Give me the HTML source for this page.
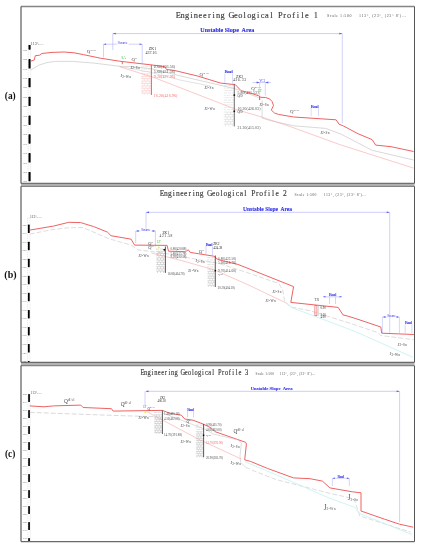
<!DOCTYPE html><html><head><meta charset="utf-8"><title>Engineering Geological Profiles</title><style>html,body{margin:0;padding:0;background:#fff;overflow:hidden}svg{display:block}text{font-family:"Liberation Serif",serif}.m{font-family:"Liberation Mono",monospace}.b{font-weight:bold}</style></head><body>
<svg width="422" height="550" viewBox="0 0 422 550">
<rect width="422" height="550" fill="#fff"/>
<line x1="21" y1="6.5" x2="414.5" y2="6.5" stroke="#858585" stroke-width="1.3"/>
<line x1="21" y1="183.4" x2="414.5" y2="183.4" stroke="#6a6a6a" stroke-width="1.2"/>
<line x1="21" y1="6.5" x2="21" y2="183.4" stroke="#5a5a5a" stroke-width="1.2"/>
<line x1="414.5" y1="6.5" x2="414.5" y2="183.4" stroke="#555" stroke-width="1.0"/>
<rect x="21" y="183.9" width="393.5" height="2.0" fill="#b2b2b2"/>
<rect x="21" y="362.7" width="393.5" height="2.4" fill="#b2b2b2"/>
<text x="4.8" y="98.9" font-size="9.4" fill="#111" class="b" >(a)</text>
<rect x="28.2" y="44.9" width="2.4" height="136.6" fill="none" stroke="#bbb" stroke-width="0.4" stroke-dasharray="1,1"/>
<rect x="28.5" y="44.9" width="2.1" height="4.8" fill="#000" rx="0.6"/>
<rect x="28.5" y="59.1" width="2.1" height="9.4" fill="#000" rx="0.6"/>
<rect x="28.5" y="77.9" width="2.1" height="9.4" fill="#000" rx="0.6"/>
<rect x="28.5" y="96.7" width="2.1" height="9.4" fill="#000" rx="0.6"/>
<rect x="28.5" y="115.5" width="2.1" height="9.4" fill="#000" rx="0.6"/>
<rect x="28.5" y="134.3" width="2.1" height="9.4" fill="#000" rx="0.6"/>
<rect x="28.5" y="153.1" width="2.1" height="9.4" fill="#000" rx="0.6"/>
<rect x="28.5" y="171.9" width="2.1" height="9.4" fill="#000" rx="0.6"/>
<text x="23.2" y="50.7" font-size="2.6" fill="#777">925</text>
<text x="23.2" y="60.1" font-size="2.6" fill="#777">920</text>
<text x="23.2" y="69.5" font-size="2.6" fill="#777">915</text>
<text x="23.2" y="78.9" font-size="2.6" fill="#777">910</text>
<text x="23.2" y="88.3" font-size="2.6" fill="#777">905</text>
<text x="23.2" y="97.7" font-size="2.6" fill="#777">900</text>
<text x="23.2" y="107.1" font-size="2.6" fill="#777">895</text>
<text x="23.2" y="116.5" font-size="2.6" fill="#777">890</text>
<text x="23.2" y="125.9" font-size="2.6" fill="#777">885</text>
<text x="23.2" y="135.3" font-size="2.6" fill="#777">880</text>
<text x="23.2" y="144.7" font-size="2.6" fill="#777">875</text>
<text x="23.2" y="154.1" font-size="2.6" fill="#777">870</text>
<text x="23.2" y="163.5" font-size="2.6" fill="#777">865</text>
<text x="23.2" y="172.9" font-size="2.6" fill="#777">860</text>
<text x="23.2" y="182.3" font-size="2.6" fill="#777">855</text>
<text x="30.8" y="44.5" font-size="4.0" fill="#444" >113°</text>
<text x="38" y="44.5" font-size="2.2" fill="#999" >m.a.s.l</text>
<text transform="scale(0.95,1)" x="184.91 190.07 194.74 200.39 204.08 209.00 213.67 218.83 223.74 227.44 232.11 237.88 240.47 246.37 250.79 256.44 260.14 264.81 270.46 274.40 279.07 284.47 289.26 292.59 298.24 302.18 307.58 312.49 317.17 321.11 326.63 330.20" y="17.6" font-size="8.8" fill="#3a3a3a" stroke="#3a3a3a" stroke-width="0.14">Engineering Geological Profile 1</text>
<text x="327" y="17" font-size="4.0" fill="#555" textLength="24.5">Scale 1:500</text>
<text x="359" y="17.2" font-size="4.0" fill="#555" textLength="47">113°, (23°, (23° 8′)...</text>
<text x="200.3" y="31.7" font-size="6.4" fill="#3030e6" class="b" stroke="#3030e6" stroke-width="0.12" textLength="54" lengthAdjust="spacingAndGlyphs">Unstable Slope&#160; Area</text>
<line x1="112.8" y1="33.6" x2="342.3" y2="33.6" stroke="#a4a4f7" stroke-width="0.55" />
<line x1="112.8" y1="33.6" x2="112.8" y2="50" stroke="#a4a4f7" stroke-width="0.5" />
<line x1="342.3" y1="33.6" x2="342.3" y2="123.4" stroke="#a4a4f7" stroke-width="0.5" />
<path d="M112.8,33.6 l3,-0.9 v1.8z" fill="#5a5af2"/>
<path d="M342.3,33.6 l-3,-0.9 v1.8z" fill="#5a5af2"/>
<line x1="103.5" y1="44.2" x2="116.8" y2="44.2" stroke="#a4a4f7" stroke-width="0.5" />
<line x1="128.7" y1="44.2" x2="142.2" y2="44.2" stroke="#a4a4f7" stroke-width="0.5" />
<line x1="103.5" y1="44.2" x2="103.5" y2="57.5" stroke="#a4a4f7" stroke-width="0.5" />
<line x1="142.2" y1="44.2" x2="142.2" y2="63" stroke="#a4a4f7" stroke-width="0.5" />
<path d="M103.5,44.2 l2.6,-0.8 v1.6z M142.2,44.2 l-2.6,-0.8 v1.6z" fill="#5a5af2"/>
<text x="117.6" y="44.1" font-size="4.6" fill="#5a5af2" textLength="10.3">Source</text>
<polyline points="30.7,61.2 34.3,59.9 35.3,55.7 39.6,55.2 41.7,53.5 52.0,52.4 64.1,52.0 74.0,52.8 83.3,54.6 100.4,58.2 119.6,61.2 151.3,64.9 164.7,66.6 166.6,69.5 174.2,70.4 197.9,76.1 210.2,79.9 220.7,83.1 232.0,84.3 235.0,84.4 241.0,90.6 245.0,91.7 252.1,93.6 258.9,95.9 260.7,97.3 265.7,97.5 269.9,99.1 272.1,101.6 273.5,105.5 271.3,110.1 274.5,113.0 278.5,114.4 285.0,115.5 293.7,117.0 336.1,119.8 339.0,124.2 343.7,126.1 357.9,133.7 372.1,139.6 375.7,145.1 391.1,146.7 413.6,151.5" fill="none" stroke="#f06262" stroke-width="1.0" stroke-linejoin="round" />
<polyline points="30.5,70.2 38.5,65.3 47.0,62.5 55.6,61.4 72.6,61.4 94.0,63.1 119.6,66.3 131.1,66.5 151.5,68.8 190.0,78.2 235.0,88.7 258.5,97.5" fill="none" stroke="#cfcfcf" stroke-width="0.8" stroke-linejoin="round" />
<polyline points="119.6,66.3 151.5,72.5 180.0,80.0 210.0,86.0" fill="none" stroke="#cfcfcf" stroke-width="0.6" stroke-linejoin="round" />
<polyline points="262.1,118.0 270.0,120.5 293.7,125.8 325.7,128.4 341.0,134.1 372.1,150.3 413.6,160.0" fill="none" stroke="#cfcfcf" stroke-width="0.8" stroke-linejoin="round" />
<polyline points="119.6,66.8 152.0,76.8 190.0,91.5 237.0,109.8 261.0,116.8 290.0,126.5 341.0,145.0 413.6,168.1" fill="none" stroke="#f6a6a6" stroke-width="0.6" stroke-linejoin="round" />
<line x1="262.1" y1="100" x2="262.1" y2="118" stroke="#bbb" stroke-width="0.5" />
<line x1="259.6" y1="96.3" x2="259.6" y2="100" stroke="#f06262" stroke-width="1.2" />
<text x="121.2" y="58.8" font-size="3.6" fill="#4c4" >SA</text>
<path d="M122.3,61.6 v2.6" stroke="#f06262" stroke-width="1"/>
<text x="86.8" y="53.2" font-size="4.8" fill="#444">Q<tspan font-size="2.88" dy="-1.92">dl+el</tspan></text>
<text x="131.5" y="60.5" font-size="4.8" fill="#444">Q<tspan font-size="2.88" dy="-1.92">el</tspan></text>
<text x="199.5" y="75.6" font-size="4.8" fill="#444">Q<tspan font-size="2.88" dy="-1.92">dl+el</tspan></text>
<text x="251.2" y="89.6" font-size="4.8" fill="#444">Q<tspan font-size="2.88" dy="-1.92">dl+el</tspan></text>
<text x="290" y="112.5" font-size="4.8" fill="#444">Q<tspan font-size="2.88" dy="-1.92">dl+el</tspan></text>
<text x="257.8" y="91.7" font-size="3.6" fill="#5c5" >LT</text>
<line x1="252.5" y1="82.5" x2="271" y2="82.5" stroke="#a4a4f7" stroke-width="0.5" />
<path d="M259.6,82.5 l-3,-0.9 v1.8z M265.3,82.5 l3,-0.9 v1.8z" fill="#5a5af2"/>
<text x="259.2" y="82.3" font-size="3.6" fill="#5a5af2" textLength="6">YC1</text>
<line x1="259.6" y1="82.5" x2="259.6" y2="95.6" stroke="#a4a4f7" stroke-width="0.45" />
<line x1="265.3" y1="82.5" x2="265.3" y2="95.6" stroke="#a4a4f7" stroke-width="0.45" />
<text x="224.4" y="73.4" font-size="4.6" fill="#3535e8" class="b" textLength="8.4">Road</text>
<line x1="224.8" y1="73.6" x2="224.8" y2="83.5" stroke="#a4a4f7" stroke-width="0.4" />
<line x1="232.5" y1="73.6" x2="232.5" y2="83.5" stroke="#a4a4f7" stroke-width="0.4" />
<text x="310.8" y="107.5" font-size="4.3" fill="#3535e8" class="b" textLength="7.8">Road</text>
<line x1="311.2" y1="107.8" x2="311.2" y2="116.3" stroke="#a4a4f7" stroke-width="0.4" />
<line x1="318.5" y1="107.8" x2="318.5" y2="116.3" stroke="#a4a4f7" stroke-width="0.4" />
<text x="130.5" y="68.89999999999999" font-size="4.4" fill="#444">J<tspan font-size="3.43" dy="0.26" letter-spacing="0.40">2-Sn</tspan></text>
<text x="120.5" y="77.3" font-size="4.4" fill="#444">J<tspan font-size="3.43" dy="0.26" letter-spacing="0.40">2-Wn</tspan></text>
<text x="204.2" y="88.8" font-size="4.4" fill="#444">J<tspan font-size="3.43" dy="0.26" letter-spacing="0.40">2-Sn</tspan></text>
<text x="204.2" y="109.6" font-size="4.4" fill="#444">J<tspan font-size="3.43" dy="0.26" letter-spacing="0.40">2-Wn</tspan></text>
<text x="259.3" y="105.7" font-size="4.4" fill="#444">J<tspan font-size="3.43" dy="0.26" letter-spacing="0.40">2-Sn</tspan></text>
<text x="320.2" y="133.70000000000002" font-size="4.4" fill="#444">J<tspan font-size="3.43" dy="0.26" letter-spacing="0.40">2-Sn</tspan></text>
<g stroke-width="0.4"><line x1="141.0" y1="66.7" x2="151.0" y2="66.7" stroke="#cfcfcf" stroke-dasharray="3.2,0.8" stroke-dashoffset="0.0"/><line x1="141.0" y1="69.1" x2="151.0" y2="69.1" stroke="#cfcfcf" stroke-dasharray="3.2,0.8" stroke-dashoffset="1.3"/><line x1="141.0" y1="71.5" x2="151.0" y2="71.5" stroke="#cfcfcf" stroke-dasharray="3.2,0.8" stroke-dashoffset="2.6"/><line x1="141.0" y1="73.9" x2="151.0" y2="73.9" stroke="#f7b4b4"/><line x1="144.3" y1="73.9" x2="144.3" y2="76.3" stroke="#f7b4b4"/><line x1="147.7" y1="73.9" x2="147.7" y2="76.3" stroke="#f7b4b4"/><line x1="141.0" y1="76.3" x2="151.0" y2="76.3" stroke="#f7b4b4"/><line x1="142.7" y1="76.3" x2="142.7" y2="78.7" stroke="#f7b4b4"/><line x1="146.0" y1="76.3" x2="146.0" y2="78.7" stroke="#f7b4b4"/><line x1="149.3" y1="76.3" x2="149.3" y2="78.7" stroke="#f7b4b4"/><line x1="141.0" y1="78.7" x2="151.0" y2="78.7" stroke="#f7b4b4"/><line x1="144.3" y1="78.7" x2="144.3" y2="81.1" stroke="#f7b4b4"/><line x1="147.7" y1="78.7" x2="147.7" y2="81.1" stroke="#f7b4b4"/><line x1="141.0" y1="81.1" x2="151.0" y2="81.1" stroke="#f7b4b4"/><line x1="142.7" y1="81.1" x2="142.7" y2="83.5" stroke="#f7b4b4"/><line x1="146.0" y1="81.1" x2="146.0" y2="83.5" stroke="#f7b4b4"/><line x1="149.3" y1="81.1" x2="149.3" y2="83.5" stroke="#f7b4b4"/><line x1="141.0" y1="83.5" x2="151.0" y2="83.5" stroke="#f7b4b4"/><line x1="144.3" y1="83.5" x2="144.3" y2="85.9" stroke="#f7b4b4"/><line x1="147.7" y1="83.5" x2="147.7" y2="85.9" stroke="#f7b4b4"/><line x1="141.0" y1="85.9" x2="151.0" y2="85.9" stroke="#f7b4b4"/><line x1="142.7" y1="85.9" x2="142.7" y2="88.3" stroke="#f7b4b4"/><line x1="146.0" y1="85.9" x2="146.0" y2="88.3" stroke="#f7b4b4"/><line x1="149.3" y1="85.9" x2="149.3" y2="88.3" stroke="#f7b4b4"/><line x1="141.0" y1="88.3" x2="151.0" y2="88.3" stroke="#f7b4b4"/><line x1="144.3" y1="88.3" x2="144.3" y2="90.7" stroke="#f7b4b4"/><line x1="147.7" y1="88.3" x2="147.7" y2="90.7" stroke="#f7b4b4"/><line x1="141.0" y1="90.7" x2="151.0" y2="90.7" stroke="#f7b4b4"/><line x1="142.7" y1="90.7" x2="142.7" y2="93.1" stroke="#f7b4b4"/><line x1="146.0" y1="90.7" x2="146.0" y2="93.1" stroke="#f7b4b4"/><line x1="149.3" y1="90.7" x2="149.3" y2="93.1" stroke="#f7b4b4"/><line x1="141.0" y1="93.1" x2="151.0" y2="93.1" stroke="#f7b4b4"/><line x1="144.3" y1="93.1" x2="144.3" y2="94.5" stroke="#f7b4b4"/><line x1="147.7" y1="93.1" x2="147.7" y2="94.5" stroke="#f7b4b4"/></g>
<line x1="151.4" y1="64.8" x2="151.4" y2="95" stroke="#ee4a4a" stroke-width="0.9" />
<text x="148.8" y="50.4" font-size="4.0" fill="#333" >ZK1</text>
<text x="145.4" y="54.3" font-size="4.0" fill="#333" >437.16</text>
<text x="153.8" y="68" font-size="4.0" fill="#505050" textLength="21.4">0.60(436.56)</text>
<text x="153.8" y="72.6" font-size="4.0" fill="#505050" textLength="21.4">5.60(431.56)</text>
<text x="153.8" y="77.8" font-size="4.0" fill="#f06a6a" textLength="21.4">9.20(427.96)</text>
<text x="153.8" y="97.2" font-size="4.0" fill="#f06a6a" textLength="23.5">16.20(416.96)</text>
<g stroke-width="0.4"><line x1="223.8" y1="85.7" x2="234.0" y2="85.7" stroke="#c8c8c8" stroke-dasharray="3.2,0.8" stroke-dashoffset="0.0"/><line x1="223.8" y1="88.1" x2="234.0" y2="88.1" stroke="#c8c8c8" stroke-dasharray="3.2,0.8" stroke-dashoffset="1.3"/><line x1="223.8" y1="90.5" x2="234.0" y2="90.5" stroke="#c8c8c8" stroke-dasharray="3.2,0.8" stroke-dashoffset="2.6"/><line x1="223.8" y1="92.9" x2="234.0" y2="92.9" stroke="#c8c8c8" stroke-dasharray="3.2,0.8" stroke-dashoffset="3.9"/><line x1="223.8" y1="95.3" x2="234.0" y2="95.3" stroke="#c8c8c8" stroke-dasharray="3.2,0.8" stroke-dashoffset="1.2"/><line x1="223.8" y1="97.7" x2="234.0" y2="97.7" stroke="#c8c8c8" stroke-dasharray="3.2,0.8" stroke-dashoffset="2.5"/><line x1="223.8" y1="100.1" x2="234.0" y2="100.1" stroke="#c8c8c8" stroke-dasharray="3.2,0.8" stroke-dashoffset="3.8"/><line x1="223.8" y1="102.5" x2="234.0" y2="102.5" stroke="#c8c8c8" stroke-dasharray="3.2,0.8" stroke-dashoffset="1.1"/><line x1="223.8" y1="104.9" x2="234.0" y2="104.9" stroke="#c8c8c8" stroke-dasharray="3.2,0.8" stroke-dashoffset="2.4"/><line x1="223.8" y1="107.3" x2="234.0" y2="107.3" stroke="#c8c8c8" stroke-dasharray="3.2,0.8" stroke-dashoffset="3.7"/><line x1="223.8" y1="109.7" x2="234.0" y2="109.7" stroke="#c8c8c8" stroke-dasharray="3.2,0.8" stroke-dashoffset="1.0"/><line x1="223.8" y1="112.1" x2="234.0" y2="112.1" stroke="#c8c8c8"/><line x1="227.2" y1="112.1" x2="227.2" y2="114.5" stroke="#c8c8c8"/><line x1="230.6" y1="112.1" x2="230.6" y2="114.5" stroke="#c8c8c8"/><line x1="223.8" y1="114.5" x2="234.0" y2="114.5" stroke="#c8c8c8"/><line x1="225.5" y1="114.5" x2="225.5" y2="116.9" stroke="#c8c8c8"/><line x1="228.9" y1="114.5" x2="228.9" y2="116.9" stroke="#c8c8c8"/><line x1="232.3" y1="114.5" x2="232.3" y2="116.9" stroke="#c8c8c8"/><line x1="223.8" y1="116.9" x2="234.0" y2="116.9" stroke="#c8c8c8"/><line x1="227.2" y1="116.9" x2="227.2" y2="119.3" stroke="#c8c8c8"/><line x1="230.6" y1="116.9" x2="230.6" y2="119.3" stroke="#c8c8c8"/><line x1="223.8" y1="119.3" x2="234.0" y2="119.3" stroke="#c8c8c8"/><line x1="225.5" y1="119.3" x2="225.5" y2="121.7" stroke="#c8c8c8"/><line x1="228.9" y1="119.3" x2="228.9" y2="121.7" stroke="#c8c8c8"/><line x1="232.3" y1="119.3" x2="232.3" y2="121.7" stroke="#c8c8c8"/><line x1="223.8" y1="121.7" x2="234.0" y2="121.7" stroke="#c8c8c8"/><line x1="227.2" y1="121.7" x2="227.2" y2="124.1" stroke="#c8c8c8"/><line x1="230.6" y1="121.7" x2="230.6" y2="124.1" stroke="#c8c8c8"/><line x1="223.8" y1="124.1" x2="234.0" y2="124.1" stroke="#c8c8c8"/><line x1="225.5" y1="124.1" x2="225.5" y2="126.4" stroke="#c8c8c8"/><line x1="228.9" y1="124.1" x2="228.9" y2="126.4" stroke="#c8c8c8"/><line x1="232.3" y1="124.1" x2="232.3" y2="126.4" stroke="#c8c8c8"/></g>
<line x1="234.3" y1="84.2" x2="234.3" y2="126.4" stroke="#4a4a4a" stroke-width="0.8" />
<rect x="233.5" y="94.3" width="1.6" height="1.6" fill="#111"/><rect x="233.5" y="110.5" width="1.6" height="1.6" fill="#111"/>
<text x="236.1" y="78.1" font-size="3.8" fill="#333" >ZK2</text>
<text x="232.9" y="81.1" font-size="3.8" fill="#333" textLength="13.2">436.33</text>
<text x="237.4" y="94" font-size="3.8" fill="#505050" textLength="21">5.80(431.53)</text>
<text x="237.4" y="97.2" font-size="3.0" fill="#333" >Q/D</text>
<text x="237.4" y="109.6" font-size="3.8" fill="#505050" textLength="23">10.30(426.03)</text>
<text x="237.4" y="112.8" font-size="3.0" fill="#333" >Q/D</text>
<text x="237.4" y="128.6" font-size="3.8" fill="#505050" textLength="23">21.30(415.03)</text>
<line x1="21" y1="186.3" x2="414.5" y2="186.3" stroke="#858585" stroke-width="1.3"/>
<line x1="21" y1="362.3" x2="414.5" y2="362.3" stroke="#6a6a6a" stroke-width="1.2"/>
<line x1="21" y1="186.3" x2="21" y2="362.3" stroke="#5a5a5a" stroke-width="1.2"/>
<line x1="414.5" y1="186.3" x2="414.5" y2="362.3" stroke="#555" stroke-width="1.0"/>
<text x="4.3" y="277.6" font-size="10" fill="#111" class="b" >(b)</text>
<rect x="27.6" y="218" width="2.4" height="144" fill="none" stroke="#bbb" stroke-width="0.4" stroke-dasharray="1,1"/>
<rect x="27.900000000000002" y="224.6" width="1.8" height="8.5" fill="#000" rx="0.6"/>
<rect x="27.900000000000002" y="241.7" width="1.8" height="8.5" fill="#000" rx="0.6"/>
<rect x="27.900000000000002" y="258.7" width="1.8" height="8.5" fill="#000" rx="0.6"/>
<rect x="27.900000000000002" y="275.8" width="1.8" height="8.5" fill="#000" rx="0.6"/>
<rect x="27.900000000000002" y="292.8" width="1.8" height="8.5" fill="#000" rx="0.6"/>
<rect x="27.900000000000002" y="309.9" width="1.8" height="8.5" fill="#000" rx="0.6"/>
<rect x="27.900000000000002" y="326.9" width="1.8" height="8.5" fill="#000" rx="0.6"/>
<rect x="27.900000000000002" y="344.0" width="1.8" height="8.5" fill="#000" rx="0.6"/>
<rect x="27.900000000000002" y="361.0" width="1.8" height="1.0" fill="#000" rx="0.6"/>
<text x="22.6" y="225.6" font-size="2.6" fill="#777">920</text>
<text x="22.6" y="234.1" font-size="2.6" fill="#777">915</text>
<text x="22.6" y="242.7" font-size="2.6" fill="#777">910</text>
<text x="22.6" y="251.2" font-size="2.6" fill="#777">905</text>
<text x="22.6" y="259.7" font-size="2.6" fill="#777">900</text>
<text x="22.6" y="268.2" font-size="2.6" fill="#777">895</text>
<text x="22.6" y="276.7" font-size="2.6" fill="#777">890</text>
<text x="22.6" y="285.3" font-size="2.6" fill="#777">885</text>
<text x="22.6" y="293.8" font-size="2.6" fill="#777">880</text>
<text x="22.6" y="302.3" font-size="2.6" fill="#777">875</text>
<text x="22.6" y="310.8" font-size="2.6" fill="#777">870</text>
<text x="22.6" y="319.4" font-size="2.6" fill="#777">865</text>
<text x="22.6" y="327.9" font-size="2.6" fill="#777">860</text>
<text x="22.6" y="336.4" font-size="2.6" fill="#777">855</text>
<text x="22.6" y="344.9" font-size="2.6" fill="#777">850</text>
<text x="22.6" y="353.5" font-size="2.6" fill="#777">845</text>
<text x="22.6" y="362.0" font-size="2.6" fill="#777">840</text>
<text x="30" y="217.6" font-size="3.6" fill="#444" >113°</text>
<text x="36.6" y="217.8" font-size="2.0" fill="#999" >m.a.s.l</text>
<text transform="scale(0.92,1)" x="173.57 178.33 182.65 187.87 191.28 195.82 200.13 204.90 209.44 212.84 217.16 222.50 224.88 230.33 234.41 239.64 243.04 247.36 252.58 256.21 260.53 265.52 269.95 273.01 278.24 281.87 286.86 291.41 295.72 299.35 304.46 307.75" y="196.3" font-size="8.2" fill="#3a3a3a" stroke="#3a3a3a" stroke-width="0.14">Engineering Geological Profile 2</text>
<text x="294.5" y="195.8" font-size="3.8" fill="#555" textLength="22">Scale 1:500</text>
<text x="323.7" y="196.2" font-size="3.8" fill="#555" textLength="42.3">113°, (23°, (23° 8′)...</text>
<text x="243" y="211.2" font-size="6.0" fill="#3030e6" class="b" stroke="#3030e6" stroke-width="0.1" textLength="49" lengthAdjust="spacingAndGlyphs">Unstable Slope&#160; Area</text>
<line x1="146" y1="212.3" x2="389.7" y2="212.3" stroke="#a4a4f7" stroke-width="0.55" />
<line x1="146" y1="212.3" x2="146" y2="228.7" stroke="#a4a4f7" stroke-width="0.5" />
<line x1="389.7" y1="212.3" x2="389.7" y2="332.7" stroke="#a4a4f7" stroke-width="0.5" />
<path d="M146,212.3 l3,-0.9 v1.8z M389.7,212.3 l-3,-0.9 v1.8z" fill="#5a5af2"/>
<line x1="135.7" y1="231" x2="140.2" y2="231" stroke="#a4a4f7" stroke-width="0.5" />
<line x1="151.4" y1="231" x2="155.4" y2="231" stroke="#a4a4f7" stroke-width="0.5" />
<line x1="135.7" y1="231" x2="135.7" y2="243" stroke="#a4a4f7" stroke-width="0.5" />
<line x1="155.4" y1="231" x2="155.4" y2="246.5" stroke="#a4a4f7" stroke-width="0.5" />
<path d="M136,231 l2.6,-0.9 v1.8z M155.2,231 l-2.6,-0.9 v1.8z" fill="#5a5af2"/>
<text x="141" y="231" font-size="4.6" fill="#5a5af2" textLength="9.6">Source</text>
<polyline points="29.7,230.1 53.4,226.1 68.8,222.3 80.7,222.6 93.7,226.6 107.4,232.1 111.0,235.7 131.1,239.2 134.6,245.1 167.1,245.4 168.5,251.2 185.5,251.7 188.3,249.8 190.2,252.4 213.9,256.2 218.0,259.6 237.9,264.4 293.6,286.6 290.8,302.4 338.1,307.4 343.0,314.9 348.0,316.2 355.2,318.4 380.8,327.0 381.7,333.2 413.9,334.5" fill="none" stroke="#f06262" stroke-width="1.0" stroke-linejoin="round" />
<polyline points="29.7,234.2 50.0,230.0 67.7,227.8 83.0,227.5 107.9,238.4 131.1,245.1 138.2,249.9 160.0,252.5 219.0,263.5 246.6,272.4 263.2,278.2 278.9,283.6 282.7,289.8 284.6,301.2 290.3,306.9 310.0,310.7 354.7,324.8 377.9,332.7 380.8,335.5 413.9,339.7" fill="none" stroke="#d4d4d4" stroke-width="0.8" stroke-linejoin="round" stroke-dasharray="5,2"/>
<polyline points="151.4,253.0 181.6,260.6 214.7,270.0 247.4,284.5 286.5,303.1" fill="none" stroke="#f6a6a6" stroke-width="0.6" stroke-linejoin="round" />
<polyline points="286.5,303.1 293.3,308.2 355.0,331.4 413.0,357.3" fill="none" stroke="#c4f0f0" stroke-width="0.8" stroke-linejoin="round" />
<g stroke-width="0.45"><line x1="156.0" y1="249.1" x2="165.0" y2="249.1" stroke="#b4b4b4" stroke-dasharray="3.2,0.8" stroke-dashoffset="0.0"/><line x1="156.0" y1="251.3" x2="165.0" y2="251.3" stroke="#b4b4b4"/><line x1="159.0" y1="251.3" x2="159.0" y2="253.5" stroke="#b4b4b4"/><line x1="162.0" y1="251.3" x2="162.0" y2="253.5" stroke="#b4b4b4"/><line x1="156.0" y1="253.5" x2="165.0" y2="253.5" stroke="#b4b4b4"/><line x1="157.5" y1="253.5" x2="157.5" y2="255.7" stroke="#b4b4b4"/><line x1="160.5" y1="253.5" x2="160.5" y2="255.7" stroke="#b4b4b4"/><line x1="163.5" y1="253.5" x2="163.5" y2="255.7" stroke="#b4b4b4"/><line x1="156.0" y1="255.7" x2="165.0" y2="255.7" stroke="#b4b4b4"/><line x1="159.0" y1="255.7" x2="159.0" y2="257.9" stroke="#b4b4b4"/><line x1="162.0" y1="255.7" x2="162.0" y2="257.9" stroke="#b4b4b4"/><line x1="156.0" y1="257.9" x2="165.0" y2="257.9" stroke="#b4b4b4"/><line x1="157.5" y1="257.9" x2="157.5" y2="260.1" stroke="#b4b4b4"/><line x1="160.5" y1="257.9" x2="160.5" y2="260.1" stroke="#b4b4b4"/><line x1="163.5" y1="257.9" x2="163.5" y2="260.1" stroke="#b4b4b4"/><line x1="156.0" y1="260.1" x2="165.0" y2="260.1" stroke="#b4b4b4"/><line x1="159.0" y1="260.1" x2="159.0" y2="262.3" stroke="#b4b4b4"/><line x1="162.0" y1="260.1" x2="162.0" y2="262.3" stroke="#b4b4b4"/><line x1="156.0" y1="262.3" x2="165.0" y2="262.3" stroke="#b4b4b4"/><line x1="157.5" y1="262.3" x2="157.5" y2="264.5" stroke="#b4b4b4"/><line x1="160.5" y1="262.3" x2="160.5" y2="264.5" stroke="#b4b4b4"/><line x1="163.5" y1="262.3" x2="163.5" y2="264.5" stroke="#b4b4b4"/><line x1="156.0" y1="264.5" x2="165.0" y2="264.5" stroke="#b4b4b4"/><line x1="159.0" y1="264.5" x2="159.0" y2="266.7" stroke="#b4b4b4"/><line x1="162.0" y1="264.5" x2="162.0" y2="266.7" stroke="#b4b4b4"/><line x1="156.0" y1="266.7" x2="165.0" y2="266.7" stroke="#b4b4b4"/><line x1="157.5" y1="266.7" x2="157.5" y2="268.9" stroke="#b4b4b4"/><line x1="160.5" y1="266.7" x2="160.5" y2="268.9" stroke="#b4b4b4"/><line x1="163.5" y1="266.7" x2="163.5" y2="268.9" stroke="#b4b4b4"/><line x1="156.0" y1="268.9" x2="165.0" y2="268.9" stroke="#b4b4b4"/><line x1="159.0" y1="268.9" x2="159.0" y2="271.1" stroke="#b4b4b4"/><line x1="162.0" y1="268.9" x2="162.0" y2="271.1" stroke="#b4b4b4"/><line x1="156.0" y1="271.1" x2="165.0" y2="271.1" stroke="#b4b4b4"/><line x1="157.5" y1="271.1" x2="157.5" y2="273.0" stroke="#b4b4b4"/><line x1="160.5" y1="271.1" x2="160.5" y2="273.0" stroke="#b4b4b4"/><line x1="163.5" y1="271.1" x2="163.5" y2="273.0" stroke="#b4b4b4"/></g>
<line x1="165.4" y1="246.5" x2="165.4" y2="272.9" stroke="#3a3a3a" stroke-width="0.85" />
<path d="M163.2,249 l2.2,0 l-1.1,2.4z" fill="#111"/>
<circle cx="158.8" cy="247.4" r="0.9" fill="#ee3"/>
<text x="162.4" y="233.6" font-size="3.6" fill="#333" >ZK1</text>
<text x="159.6" y="236.9" font-size="3.6" fill="#333" textLength="12.8">421.58</text>
<text x="157" y="243" font-size="3.6" fill="#5c5" >LT</text>
<text x="170.4" y="249.6" font-size="3.3" fill="#505050" textLength="16">0.80(420.88)</text>
<text x="170.4" y="255.3" font-size="3.3" fill="#505050" textLength="16">5.80(415.78)</text>
<text x="170.4" y="258.4" font-size="3.3" fill="#505050" textLength="16">9.20(412.38)</text>
<text x="167.5" y="275.2" font-size="3.0" fill="#505050" >16.80(404.78)</text>
<g stroke-width="0.45"><line x1="207.3" y1="257.6" x2="215.0" y2="257.6" stroke="#bcbcbc" stroke-dasharray="3.2,0.8" stroke-dashoffset="0.0"/><line x1="207.3" y1="259.9" x2="215.0" y2="259.9" stroke="#bcbcbc" stroke-dasharray="3.2,0.8" stroke-dashoffset="1.3"/><line x1="207.3" y1="262.2" x2="215.0" y2="262.2" stroke="#bcbcbc" stroke-dasharray="3.2,0.8" stroke-dashoffset="2.6"/><line x1="207.3" y1="264.6" x2="215.0" y2="264.6" stroke="#bcbcbc" stroke-dasharray="3.2,0.8" stroke-dashoffset="3.9"/><line x1="207.3" y1="266.9" x2="215.0" y2="266.9" stroke="#bcbcbc" stroke-dasharray="3.2,0.8" stroke-dashoffset="1.2"/><line x1="207.3" y1="269.2" x2="215.0" y2="269.2" stroke="#bcbcbc"/><line x1="209.9" y1="269.2" x2="209.9" y2="271.5" stroke="#bcbcbc"/><line x1="212.4" y1="269.2" x2="212.4" y2="271.5" stroke="#bcbcbc"/><line x1="207.3" y1="271.5" x2="215.0" y2="271.5" stroke="#bcbcbc"/><line x1="208.6" y1="271.5" x2="208.6" y2="273.8" stroke="#bcbcbc"/><line x1="211.2" y1="271.5" x2="211.2" y2="273.8" stroke="#bcbcbc"/><line x1="213.7" y1="271.5" x2="213.7" y2="273.8" stroke="#bcbcbc"/><line x1="207.3" y1="273.8" x2="215.0" y2="273.8" stroke="#bcbcbc"/><line x1="209.9" y1="273.8" x2="209.9" y2="276.1" stroke="#bcbcbc"/><line x1="212.4" y1="273.8" x2="212.4" y2="276.1" stroke="#bcbcbc"/><line x1="207.3" y1="276.1" x2="215.0" y2="276.1" stroke="#bcbcbc"/><line x1="208.6" y1="276.1" x2="208.6" y2="278.4" stroke="#bcbcbc"/><line x1="211.2" y1="276.1" x2="211.2" y2="278.4" stroke="#bcbcbc"/><line x1="213.7" y1="276.1" x2="213.7" y2="278.4" stroke="#bcbcbc"/><line x1="207.3" y1="278.4" x2="215.0" y2="278.4" stroke="#bcbcbc"/><line x1="209.9" y1="278.4" x2="209.9" y2="280.7" stroke="#bcbcbc"/><line x1="212.4" y1="278.4" x2="212.4" y2="280.7" stroke="#bcbcbc"/><line x1="207.3" y1="280.7" x2="215.0" y2="280.7" stroke="#bcbcbc"/><line x1="208.6" y1="280.7" x2="208.6" y2="283.0" stroke="#bcbcbc"/><line x1="211.2" y1="280.7" x2="211.2" y2="283.0" stroke="#bcbcbc"/><line x1="213.7" y1="280.7" x2="213.7" y2="283.0" stroke="#bcbcbc"/><line x1="207.3" y1="283.0" x2="215.0" y2="283.0" stroke="#bcbcbc"/><line x1="209.9" y1="283.0" x2="209.9" y2="285.3" stroke="#bcbcbc"/><line x1="212.4" y1="283.0" x2="212.4" y2="285.3" stroke="#bcbcbc"/><line x1="207.3" y1="285.3" x2="215.0" y2="285.3" stroke="#bcbcbc"/><line x1="208.6" y1="285.3" x2="208.6" y2="287.0" stroke="#bcbcbc"/><line x1="211.2" y1="285.3" x2="211.2" y2="287.0" stroke="#bcbcbc"/><line x1="213.7" y1="285.3" x2="213.7" y2="287.0" stroke="#bcbcbc"/></g>
<line x1="215.3" y1="255.5" x2="215.3" y2="287" stroke="#3a3a3a" stroke-width="0.85" />
<rect x="214.6" y="270" width="1.4" height="1.4" fill="#000"/>
<text x="205.7" y="246" font-size="4.0" fill="#3535e8" class="b" textLength="6.8">Road</text>
<line x1="206" y1="245.5" x2="206" y2="255" stroke="#a4a4f7" stroke-width="0.45" />
<line x1="212.5" y1="245.5" x2="212.5" y2="255" stroke="#a4a4f7" stroke-width="0.45" />
<text x="213.3" y="245" font-size="3.4" fill="#333" >ZK2</text>
<text x="213.3" y="248.8" font-size="3.4" fill="#333" textLength="9">424.38</text>
<text x="218" y="260" font-size="3.3" fill="#505050" textLength="18">0.80(423.58)</text>
<text x="218" y="264.3" font-size="3.3" fill="#505050" textLength="18">5.60(418.78)</text>
<text x="218" y="272.3" font-size="3.3" fill="#505050" textLength="18">9.70(414.68)</text>
<text x="218" y="275.4" font-size="2.8" fill="#333" >Q/D</text>
<text x="217.8" y="289" font-size="3.0" fill="#505050" >20.20(404.18)</text>
<text x="148.2" y="244.6" font-size="4.4" fill="#444">Q<tspan font-size="2.64" dy="-1.76">el</tspan></text>
<text x="148.2" y="249" font-size="4.4" fill="#444">Q<tspan font-size="2.64" dy="-1.76">dl</tspan></text>
<text x="199" y="253" font-size="4.4" fill="#444">Q<tspan font-size="2.64" dy="-1.76">el</tspan></text>
<text x="138.2" y="256.90000000000003" font-size="4.3" fill="#444">J<tspan font-size="3.35" dy="0.26" letter-spacing="0.39">2-Wn</tspan></text>
<text x="195.5" y="262.3" font-size="4.3" fill="#444">J<tspan font-size="3.35" dy="0.26" letter-spacing="0.39">2-Sn</tspan></text>
<text x="187.9" y="271.8" font-size="4.3" fill="#444">J<tspan font-size="3.35" dy="0.26" letter-spacing="0.39">2-Wn</tspan></text>
<text x="272.3" y="292.7" font-size="4.3" fill="#444">J<tspan font-size="3.35" dy="0.26" letter-spacing="0.39">2-Sn</tspan></text>
<text x="265.2" y="301.7" font-size="4.3" fill="#444">J<tspan font-size="3.35" dy="0.26" letter-spacing="0.39">2-Wn</tspan></text>
<text x="397.8" y="345.90000000000003" font-size="4.3" fill="#444">J<tspan font-size="3.35" dy="0.26" letter-spacing="0.39">2-Sn</tspan></text>
<text x="389.7" y="355.40000000000003" font-size="4.3" fill="#444">J<tspan font-size="3.35" dy="0.26" letter-spacing="0.39">2-Wn</tspan></text>
<rect x="314.9" y="305.5" width="2" height="10.2" fill="none" stroke="#f06262" stroke-width="0.7"/>
<line x1="318.3" y1="306" x2="318.3" y2="316" stroke="#999" stroke-width="0.4" />
<text x="314.5" y="301.4" font-size="3.2" fill="#333" >TJ1</text>
<text x="320.5" y="308.8" font-size="3.0" fill="#333" >0.90</text>
<text x="320.5" y="315.5" font-size="3.0" fill="#333" >2.50</text>
<text x="320.5" y="318.4" font-size="3.0" fill="#333" >4.00</text>
<text x="329" y="296.4" font-size="3.8" fill="#3535e8" class="b" textLength="7.4">Road</text>
<line x1="323" y1="296.8" x2="342" y2="296.8" stroke="#a4a4f7" stroke-width="0.5" />
<line x1="329.5" y1="296.8" x2="329.5" y2="304" stroke="#a4a4f7" stroke-width="0.45" />
<line x1="335.5" y1="296.8" x2="335.5" y2="304" stroke="#a4a4f7" stroke-width="0.45" />
<path d="M323,296.8 l2.4,-0.8 v1.6z M342,296.8 l-2.4,-0.8 v1.6z" fill="#5a5af2"/>
<text x="387" y="316.8" font-size="4.2" fill="#5a5af2" textLength="9">Source</text>
<line x1="382.4" y1="317" x2="386.5" y2="317" stroke="#a4a4f7" stroke-width="0.5" />
<line x1="396.5" y1="317" x2="399.4" y2="317" stroke="#a4a4f7" stroke-width="0.5" />
<line x1="382.4" y1="317" x2="382.4" y2="333" stroke="#a4a4f7" stroke-width="0.45" />
<line x1="399.4" y1="317" x2="399.4" y2="333" stroke="#a4a4f7" stroke-width="0.45" />
<path d="M383,317 l2.4,-0.9 v1.8z M399,317 l-2.4,-0.9 v1.8z" fill="#5a5af2"/>
<text x="405.1" y="323.8" font-size="3.8" fill="#3535e8" class="b" textLength="6.8">Road</text>
<line x1="405.2" y1="324.3" x2="405.2" y2="333" stroke="#a4a4f7" stroke-width="0.45" />
<line x1="411.9" y1="324.3" x2="411.9" y2="333" stroke="#a4a4f7" stroke-width="0.45" />
<line x1="21" y1="365.6" x2="414.5" y2="365.6" stroke="#858585" stroke-width="1.3"/>
<line x1="21" y1="541.6" x2="414.5" y2="541.6" stroke="#6a6a6a" stroke-width="1.2"/>
<line x1="21" y1="365.6" x2="21" y2="541.6" stroke="#5a5a5a" stroke-width="1.2"/>
<line x1="414.5" y1="365.6" x2="414.5" y2="541.6" stroke="#555" stroke-width="1.0"/>
<text x="5" y="456.6" font-size="9.4" fill="#111" class="b" >(c)</text>
<rect x="27.900000000000002" y="394" width="2.4" height="147" fill="none" stroke="#bbb" stroke-width="0.4" stroke-dasharray="1,1"/>
<rect x="28.200000000000003" y="394.0" width="1.7" height="8.0" fill="#000" rx="0.6"/>
<rect x="28.200000000000003" y="410.0" width="1.7" height="8.0" fill="#000" rx="0.6"/>
<rect x="28.200000000000003" y="426.0" width="1.7" height="8.0" fill="#000" rx="0.6"/>
<rect x="28.200000000000003" y="442.0" width="1.7" height="8.0" fill="#000" rx="0.6"/>
<rect x="28.200000000000003" y="458.0" width="1.7" height="8.0" fill="#000" rx="0.6"/>
<rect x="28.200000000000003" y="474.0" width="1.7" height="8.0" fill="#000" rx="0.6"/>
<rect x="28.200000000000003" y="490.0" width="1.7" height="8.0" fill="#000" rx="0.6"/>
<rect x="28.200000000000003" y="506.0" width="1.7" height="8.0" fill="#000" rx="0.6"/>
<rect x="28.200000000000003" y="522.0" width="1.7" height="8.0" fill="#000" rx="0.6"/>
<rect x="28.200000000000003" y="538.0" width="1.7" height="3.0" fill="#000" rx="0.6"/>
<text x="22.900000000000002" y="395.0" font-size="2.6" fill="#777">920</text>
<text x="22.900000000000002" y="403.0" font-size="2.6" fill="#777">915</text>
<text x="22.900000000000002" y="411.0" font-size="2.6" fill="#777">910</text>
<text x="22.900000000000002" y="419.0" font-size="2.6" fill="#777">905</text>
<text x="22.900000000000002" y="427.0" font-size="2.6" fill="#777">900</text>
<text x="22.900000000000002" y="435.0" font-size="2.6" fill="#777">895</text>
<text x="22.900000000000002" y="443.0" font-size="2.6" fill="#777">890</text>
<text x="22.900000000000002" y="451.0" font-size="2.6" fill="#777">885</text>
<text x="22.900000000000002" y="459.0" font-size="2.6" fill="#777">880</text>
<text x="22.900000000000002" y="467.0" font-size="2.6" fill="#777">875</text>
<text x="22.900000000000002" y="475.0" font-size="2.6" fill="#777">870</text>
<text x="22.900000000000002" y="483.0" font-size="2.6" fill="#777">865</text>
<text x="22.900000000000002" y="491.0" font-size="2.6" fill="#777">860</text>
<text x="22.900000000000002" y="499.0" font-size="2.6" fill="#777">855</text>
<text x="22.900000000000002" y="507.0" font-size="2.6" fill="#777">850</text>
<text x="22.900000000000002" y="515.0" font-size="2.6" fill="#777">845</text>
<text x="22.900000000000002" y="523.0" font-size="2.6" fill="#777">840</text>
<text x="22.900000000000002" y="531.0" font-size="2.6" fill="#777">835</text>
<text x="22.900000000000002" y="539.0" font-size="2.6" fill="#777">830</text>
<text x="30.8" y="393.8" font-size="3.4" fill="#444" >113°</text>
<text x="37" y="394" font-size="1.9" fill="#999" >m.a.s.l</text>
<text transform="scale(0.9,1)" x="156.00 160.14 163.88 168.42 171.36 175.30 179.04 183.18 187.12 190.06 193.80 198.44 200.48 205.22 208.76 213.30 216.24 219.98 224.52 227.66 231.40 235.73 239.57 242.21 246.75 249.89 254.23 258.17 261.91 265.05 269.49 272.33" y="375" font-size="7.2" fill="#3a3a3a" stroke="#3a3a3a" stroke-width="0.14">Engineering Geological Profile 3</text>
<text x="255.5" y="374.6" font-size="3.4" fill="#555" textLength="18.5">Scale 1:500</text>
<text x="279.7" y="374.8" font-size="3.4" fill="#555" textLength="35.5">113°, (23°, (23° 8′)...</text>
<text x="250.7" y="390.2" font-size="5.0" fill="#3030e6" class="b" stroke="#3030e6" stroke-width="0.08" textLength="41.8" lengthAdjust="spacingAndGlyphs">Unstable Slope&#160; Area</text>
<line x1="146" y1="391.3" x2="399.6" y2="391.3" stroke="#a4a4f7" stroke-width="0.55" />
<line x1="145" y1="391.3" x2="145" y2="407.5" stroke="#a4a4f7" stroke-width="0.5" />
<line x1="399.6" y1="391.3" x2="399.6" y2="522.2" stroke="#a4a4f7" stroke-width="0.5" />
<path d="M145.5,391.3 l3,-0.9 v1.8z M399.6,391.3 l-3,-0.9 v1.8z" fill="#5a5af2"/>
<polyline points="29.7,405.9 44.0,406.8 53.4,405.9 80.7,405.1 83.1,407.5 111.5,408.7 113.2,411.1 162.3,410.4 169.8,413.2 181.4,415.2 184.7,419.0 193.0,420.2 203.3,424.1 211.6,428.2 214.9,431.6 245.6,442.3 246.4,444.0 244.7,459.8 250.5,461.4 267.4,468.4 293.5,477.9 310.0,478.7 322.4,481.1 329.9,487.9 352.3,491.8 361.0,492.8 361.0,511.0 384.6,519.2 399.6,524.2 413.2,527.2" fill="none" stroke="#f06262" stroke-width="1.0" stroke-linejoin="round" />
<polyline points="29.7,412.3 60.0,413.5 125.0,415.8 154.0,416.6" fill="none" stroke="#c8c8c8" stroke-width="0.7" stroke-linejoin="round" stroke-dasharray="5,2"/>
<polyline points="245.5,467.2 255.0,471.4 276.0,479.5 330.0,493.4 349.8,497.8 354.8,501.0 359.8,516.0 410.7,532.1" fill="none" stroke="#d4d4d4" stroke-width="0.8" stroke-linejoin="round" stroke-dasharray="5,2"/>
<polyline points="163.2,413.2 206.6,429.9 213.2,434.0 238.1,439.9 241.4,443.2 240.0,456.0 240.7,462.4 245.5,467.2" fill="none" stroke="#c8c8c8" stroke-width="0.6" stroke-linejoin="round" />
<polyline points="244.5,461.5 276.0,474.7 330.0,498.4 354.8,507.3 359.8,513.5 412.0,534.6" fill="none" stroke="#c4f0f0" stroke-width="0.8" stroke-linejoin="round" />
<polyline points="146.6,411.6 199.7,439.8 241.3,459.0" fill="none" stroke="#f6a6a6" stroke-width="0.6" stroke-linejoin="round" />
<g stroke-width="0.45"><line x1="154.0" y1="412.6" x2="162.0" y2="412.6" stroke="#b0b0b0" stroke-dasharray="3.2,0.8" stroke-dashoffset="0.0"/><line x1="154.0" y1="414.8" x2="162.0" y2="414.8" stroke="#b0b0b0"/><line x1="156.7" y1="414.8" x2="156.7" y2="417.0" stroke="#b0b0b0"/><line x1="159.3" y1="414.8" x2="159.3" y2="417.0" stroke="#b0b0b0"/><line x1="154.0" y1="417.0" x2="162.0" y2="417.0" stroke="#b0b0b0"/><line x1="155.3" y1="417.0" x2="155.3" y2="419.2" stroke="#b0b0b0"/><line x1="158.0" y1="417.0" x2="158.0" y2="419.2" stroke="#b0b0b0"/><line x1="160.7" y1="417.0" x2="160.7" y2="419.2" stroke="#b0b0b0"/><line x1="154.0" y1="419.2" x2="162.0" y2="419.2" stroke="#b0b0b0"/><line x1="156.7" y1="419.2" x2="156.7" y2="421.4" stroke="#b0b0b0"/><line x1="159.3" y1="419.2" x2="159.3" y2="421.4" stroke="#b0b0b0"/><line x1="154.0" y1="421.4" x2="162.0" y2="421.4" stroke="#b0b0b0"/><line x1="155.3" y1="421.4" x2="155.3" y2="423.6" stroke="#b0b0b0"/><line x1="158.0" y1="421.4" x2="158.0" y2="423.6" stroke="#b0b0b0"/><line x1="160.7" y1="421.4" x2="160.7" y2="423.6" stroke="#b0b0b0"/><line x1="154.0" y1="423.6" x2="162.0" y2="423.6" stroke="#b0b0b0"/><line x1="156.7" y1="423.6" x2="156.7" y2="425.8" stroke="#b0b0b0"/><line x1="159.3" y1="423.6" x2="159.3" y2="425.8" stroke="#b0b0b0"/><line x1="154.0" y1="425.8" x2="162.0" y2="425.8" stroke="#b0b0b0"/><line x1="155.3" y1="425.8" x2="155.3" y2="428.0" stroke="#b0b0b0"/><line x1="158.0" y1="425.8" x2="158.0" y2="428.0" stroke="#b0b0b0"/><line x1="160.7" y1="425.8" x2="160.7" y2="428.0" stroke="#b0b0b0"/><line x1="154.0" y1="428.0" x2="162.0" y2="428.0" stroke="#b0b0b0"/><line x1="156.7" y1="428.0" x2="156.7" y2="430.2" stroke="#b0b0b0"/><line x1="159.3" y1="428.0" x2="159.3" y2="430.2" stroke="#b0b0b0"/><line x1="154.0" y1="430.2" x2="162.0" y2="430.2" stroke="#b0b0b0"/><line x1="155.3" y1="430.2" x2="155.3" y2="432.4" stroke="#b0b0b0"/><line x1="158.0" y1="430.2" x2="158.0" y2="432.4" stroke="#b0b0b0"/><line x1="160.7" y1="430.2" x2="160.7" y2="432.4" stroke="#b0b0b0"/><line x1="154.0" y1="432.4" x2="162.0" y2="432.4" stroke="#b0b0b0"/><line x1="156.7" y1="432.4" x2="156.7" y2="434.0" stroke="#b0b0b0"/><line x1="159.3" y1="432.4" x2="159.3" y2="434.0" stroke="#b0b0b0"/></g>
<line x1="162.4" y1="410.4" x2="162.4" y2="434" stroke="#3a3a3a" stroke-width="0.85" />
<text x="159.9" y="398.9" font-size="3.0" fill="#333" >ZK1</text>
<text x="157.4" y="401.9" font-size="3.0" fill="#333" >406.58</text>
<text x="164" y="415" font-size="3.0" fill="#505050" >1.40(405.18)</text>
<text x="164" y="419.9" font-size="3.0" fill="#505050" >4.50(402.08)</text>
<text x="164" y="436.3" font-size="3.2" fill="#505050" >14.70(391.88)</text>
<text x="143.1" y="407.6" font-size="3.0" fill="#3c3" >LT</text>
<circle cx="145.3" cy="412.4" r="0.9" fill="#ee3"/>
<g stroke-width="0.45"><line x1="195.8" y1="425.1" x2="203.3" y2="425.1" stroke="#b8b8b8" stroke-dasharray="3.2,0.8" stroke-dashoffset="0.0"/><line x1="195.8" y1="427.3" x2="203.3" y2="427.3" stroke="#b8b8b8" stroke-dasharray="3.2,0.8" stroke-dashoffset="1.3"/><line x1="195.8" y1="429.5" x2="203.3" y2="429.5" stroke="#b8b8b8" stroke-dasharray="3.2,0.8" stroke-dashoffset="2.6"/><line x1="195.8" y1="431.7" x2="203.3" y2="431.7" stroke="#b8b8b8"/><line x1="198.3" y1="431.7" x2="198.3" y2="433.9" stroke="#b8b8b8"/><line x1="200.8" y1="431.7" x2="200.8" y2="433.9" stroke="#b8b8b8"/><line x1="195.8" y1="433.9" x2="203.3" y2="433.9" stroke="#b8b8b8"/><line x1="197.1" y1="433.9" x2="197.1" y2="436.1" stroke="#b8b8b8"/><line x1="199.6" y1="433.9" x2="199.6" y2="436.1" stroke="#b8b8b8"/><line x1="202.1" y1="433.9" x2="202.1" y2="436.1" stroke="#b8b8b8"/><line x1="195.8" y1="436.1" x2="203.3" y2="436.1" stroke="#b8b8b8"/><line x1="198.3" y1="436.1" x2="198.3" y2="438.3" stroke="#b8b8b8"/><line x1="200.8" y1="436.1" x2="200.8" y2="438.3" stroke="#b8b8b8"/><line x1="195.8" y1="438.3" x2="203.3" y2="438.3" stroke="#b8b8b8"/><line x1="197.1" y1="438.3" x2="197.1" y2="440.5" stroke="#b8b8b8"/><line x1="199.6" y1="438.3" x2="199.6" y2="440.5" stroke="#b8b8b8"/><line x1="202.1" y1="438.3" x2="202.1" y2="440.5" stroke="#b8b8b8"/><line x1="195.8" y1="440.5" x2="203.3" y2="440.5" stroke="#b8b8b8"/><line x1="198.3" y1="440.5" x2="198.3" y2="442.7" stroke="#b8b8b8"/><line x1="200.8" y1="440.5" x2="200.8" y2="442.7" stroke="#b8b8b8"/><line x1="195.8" y1="442.7" x2="203.3" y2="442.7" stroke="#b8b8b8"/><line x1="197.1" y1="442.7" x2="197.1" y2="444.9" stroke="#b8b8b8"/><line x1="199.6" y1="442.7" x2="199.6" y2="444.9" stroke="#b8b8b8"/><line x1="202.1" y1="442.7" x2="202.1" y2="444.9" stroke="#b8b8b8"/><line x1="195.8" y1="444.9" x2="203.3" y2="444.9" stroke="#b8b8b8"/><line x1="198.3" y1="444.9" x2="198.3" y2="447.1" stroke="#b8b8b8"/><line x1="200.8" y1="444.9" x2="200.8" y2="447.1" stroke="#b8b8b8"/><line x1="195.8" y1="447.1" x2="203.3" y2="447.1" stroke="#b8b8b8"/><line x1="197.1" y1="447.1" x2="197.1" y2="449.3" stroke="#b8b8b8"/><line x1="199.6" y1="447.1" x2="199.6" y2="449.3" stroke="#b8b8b8"/><line x1="202.1" y1="447.1" x2="202.1" y2="449.3" stroke="#b8b8b8"/><line x1="195.8" y1="449.3" x2="203.3" y2="449.3" stroke="#b8b8b8"/><line x1="198.3" y1="449.3" x2="198.3" y2="451.5" stroke="#b8b8b8"/><line x1="200.8" y1="449.3" x2="200.8" y2="451.5" stroke="#b8b8b8"/><line x1="195.8" y1="451.5" x2="203.3" y2="451.5" stroke="#b8b8b8"/><line x1="197.1" y1="451.5" x2="197.1" y2="453.7" stroke="#b8b8b8"/><line x1="199.6" y1="451.5" x2="199.6" y2="453.7" stroke="#b8b8b8"/><line x1="202.1" y1="451.5" x2="202.1" y2="453.7" stroke="#b8b8b8"/><line x1="195.8" y1="453.7" x2="203.3" y2="453.7" stroke="#b8b8b8"/><line x1="198.3" y1="453.7" x2="198.3" y2="455.9" stroke="#b8b8b8"/><line x1="200.8" y1="453.7" x2="200.8" y2="455.9" stroke="#b8b8b8"/><line x1="195.8" y1="455.9" x2="203.3" y2="455.9" stroke="#b8b8b8"/><line x1="197.1" y1="455.9" x2="197.1" y2="457.3" stroke="#b8b8b8"/><line x1="199.6" y1="455.9" x2="199.6" y2="457.3" stroke="#b8b8b8"/><line x1="202.1" y1="455.9" x2="202.1" y2="457.3" stroke="#b8b8b8"/></g>
<line x1="203.6" y1="424" x2="203.6" y2="457.3" stroke="#3a3a3a" stroke-width="0.85" />
<rect x="202.9" y="434.6" width="1.4" height="1.4" fill="#000"/>
<text x="206" y="426.2" font-size="3.0" fill="#505050" >0.90(405.70)</text>
<text x="206" y="430.6" font-size="3.0" fill="#505050" >4.60(402.00)</text>
<text x="206" y="436.1" font-size="2.8" fill="#333" >Q/D</text>
<text x="206" y="444.4" font-size="3.0" fill="#f06a6a" >13.70(392.90)</text>
<text x="206" y="458.8" font-size="3.0" fill="#505050" >20.90(385.70)</text>
<text x="187.2" y="411" font-size="3.8" fill="#3535e8" class="b" textLength="6.6">Road</text>
<line x1="187.5" y1="410.6" x2="187.5" y2="417.4" stroke="#a4a4f7" stroke-width="0.45" />
<line x1="193.5" y1="410.6" x2="193.5" y2="417.4" stroke="#a4a4f7" stroke-width="0.45" />
<text x="64.1" y="403" font-size="5.3" fill="#444">Q<tspan font-size="3.18" dy="-2.12">dl+el</tspan></text>
<text x="120.7" y="406" font-size="5.3" fill="#444">Q<tspan font-size="3.18" dy="-2.12">dl+el</tspan></text>
<text x="147.4" y="409.6" font-size="3.7" fill="#444">Q<tspan font-size="2.22" dy="-1.48">dl+el</tspan></text>
<text x="186.4" y="422.9" font-size="3.7" fill="#444">Q<tspan font-size="2.22" dy="-1.48">dl</tspan></text>
<text x="233.6" y="433.4" font-size="5.3" fill="#444">Q<tspan font-size="3.18" dy="-2.12">dl+el</tspan></text>
<text x="138.3" y="419.1" font-size="4.3" fill="#444">J<tspan font-size="3.35" dy="0.26" letter-spacing="0.39">2-Wn</tspan></text>
<text x="180.6" y="426.6" font-size="4.3" fill="#444">J<tspan font-size="3.35" dy="0.26" letter-spacing="0.39">2-Sn</tspan></text>
<text x="180.6" y="443.2" font-size="4.3" fill="#444">J<tspan font-size="3.35" dy="0.26" letter-spacing="0.39">2-Wn</tspan></text>
<text x="230.6" y="447.40000000000003" font-size="4.3" fill="#444">J<tspan font-size="3.35" dy="0.26" letter-spacing="0.39">2-Sn</tspan></text>
<text x="230.6" y="464.3" font-size="4.3" fill="#444">J<tspan font-size="3.35" dy="0.26" letter-spacing="0.39">2-Wn</tspan></text>
<text x="347.8" y="500.4" font-size="7.2" fill="#555">J<tspan font-size="3.6" dy="0.3" letter-spacing="0.25">2-Sn</tspan></text>
<text x="323.7" y="509.8" font-size="7.2" fill="#555">J<tspan font-size="3.6" dy="0.3" letter-spacing="0.25">2-Wn</tspan></text>
<text x="337.4" y="478" font-size="3.6" fill="#3535e8" class="b" textLength="6.6">Road</text>
<line x1="332.4" y1="478.3" x2="349.3" y2="478.3" stroke="#a4a4f7" stroke-width="0.5" />
<line x1="332.4" y1="478.3" x2="332.4" y2="486.1" stroke="#a4a4f7" stroke-width="0.45" />
<line x1="349.3" y1="478.3" x2="349.3" y2="486.1" stroke="#a4a4f7" stroke-width="0.45" />
<path d="M332.4,478.3 l2.4,-0.8 v1.6z M349.3,478.3 l-2.4,-0.8 v1.6z" fill="#5a5af2"/>
</svg></body></html>
